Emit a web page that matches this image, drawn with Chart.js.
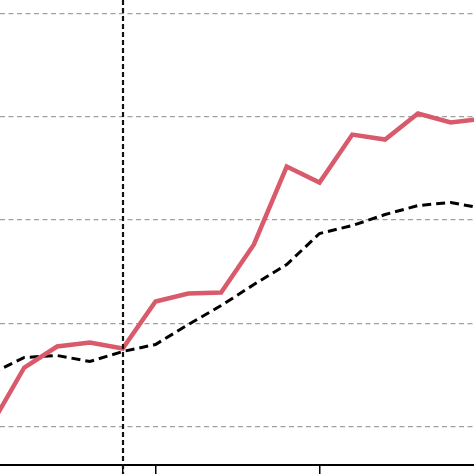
<!DOCTYPE html>
<html>
<head>
<meta charset="utf-8">
<script src="https://cdn.jsdelivr.net/npm/chart.js@4/dist/chart.umd.min.js"></script>
<style>
  html, body { margin: 0; padding: 0; background: #fff; overflow: hidden; }
  #chart { display: block; }
</style>
</head>
<body>
<canvas id="chart" width="474" height="474"></canvas>
<script>
// period index (the view is cropped, so the first and last points sit just outside)
const periods = [-1, 0, 1, 2, 3, 4, 5, 6, 7, 8, 9, 10, 11, 12, 13, 14];

const seriesRed = [10.19, 15.72, 17.75, 18.14, 17.56, 22.11, 22.89, 22.98,
  27.64, 35.19, 33.64, 38.29, 37.81, 40.33, 39.46, 39.84];

const seriesBlack = [15.14, 16.69, 16.88, 16.30, 17.27, 17.95, 19.88, 21.72,
  23.76, 25.70, 28.70, 29.48, 30.54, 31.41, 31.71, 31.12];

const yTicks = [10, 20, 30, 40, 50];
const xTicks = [3, 4, 9];
const markerPeriod = 3;

function toPoints(values) {
  return periods.map((p, i) => ({ x: p, y: values[i] }));
}

const markerLine = {
  id: "markerLine",
  afterDatasetsDraw(chart) {
    const ctx = chart.ctx;
    const x = Math.round(chart.scales.x.getPixelForValue(markerPeriod));
    ctx.save();
    ctx.strokeStyle = "#111";
    ctx.lineWidth = 2.2;
    ctx.setLineDash([5, 3]);
    ctx.beginPath();
    ctx.moveTo(x, 0);
    ctx.lineTo(x, chart.height);
    ctx.stroke();
    ctx.restore();
  },
};

new Chart(document.getElementById("chart").getContext("2d"), {
  type: "line",
  data: {
    datasets: [
      {
        data: toPoints(seriesRed),
        borderColor: "#d95a6b",
        borderWidth: 4.5,
        pointRadius: 0,
        tension: 0,
      },
      {
        data: toPoints(seriesBlack),
        borderColor: "#000",
        borderWidth: 3,
        borderDash: [9, 5],
        pointRadius: 0,
        tension: 0,
      },
    ],
  },
  options: {
    responsive: false,
    animation: false,
    layout: { padding: 0 },
    plugins: { legend: { display: false }, tooltip: { enabled: false } },
    scales: {
      x: {
        type: "linear",
        min: -0.741,
        max: 13.71,
        afterBuildTicks: (scale) => {
          scale.ticks = xTicks.map((v) => ({ value: v }));
        },
        ticks: { display: false },
        grid: {
          drawOnChartArea: false,
          tickLength: 9,
          color: "#000",
          lineWidth: 1.5,
        },
        border: { color: "#000", width: 2 },
      },
      y: {
        min: 6.27,
        max: 51.33,
        afterBuildTicks: (scale) => {
          scale.ticks = yTicks.map((v) => ({ value: v }));
        },
        ticks: { display: false },
        grid: { drawTicks: false, color: "#a0a0a0", lineWidth: 1.3 },
        border: { display: false, dash: [5, 3.5] },
      },
    },
  },
  plugins: [markerLine],
});
</script>
</body>
</html>
